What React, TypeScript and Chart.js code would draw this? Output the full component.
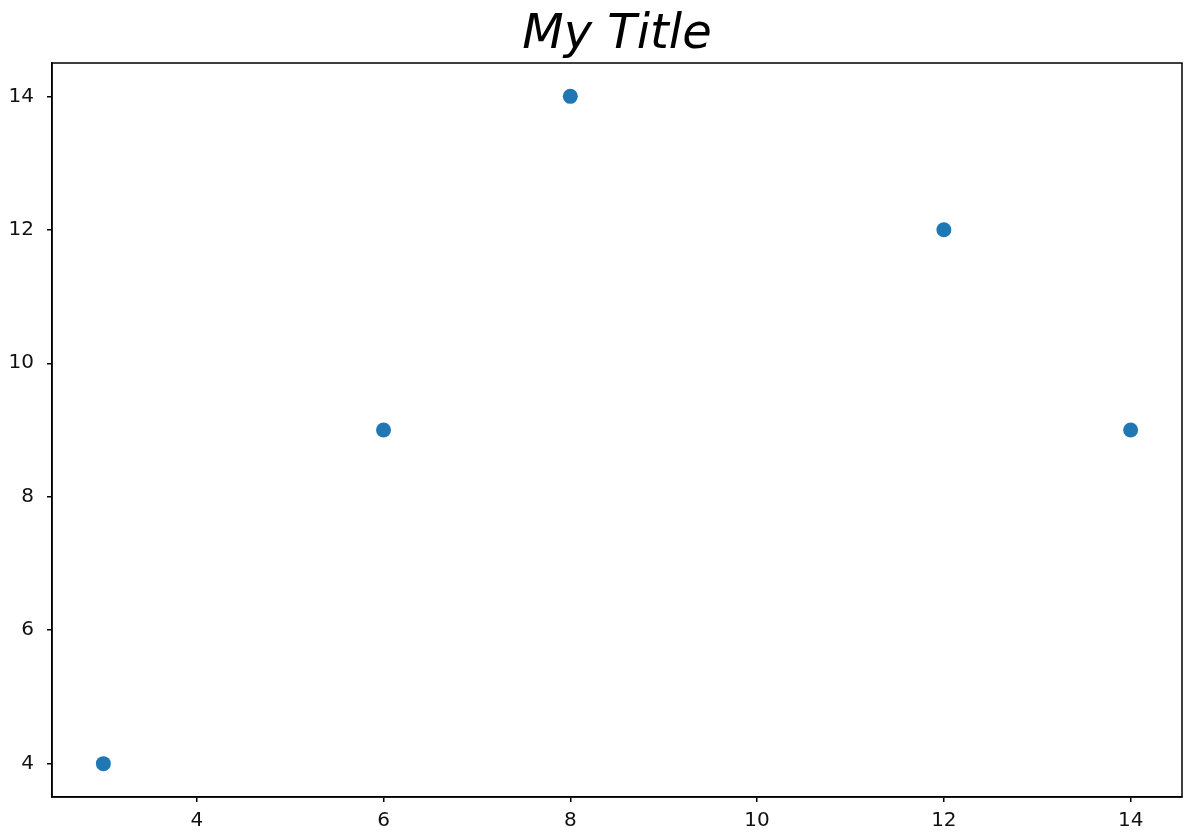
import React, { useEffect, useRef } from "react";
import { Chart, registerables } from "chart.js";

Chart.register(...registerables);

const titleText = "My Title";
const xValues = [3, 6, 8, 12, 14];
const yValues = [4, 9, 14, 12, 9];
const xTicks = [4, 6, 8, 10, 12, 14];
const yTicks = [4, 6, 8, 10, 12, 14];
const xRange = [2.45, 14.55];
const yRange = [3.5, 14.5];

const FONT = '"DejaVu Sans", sans-serif';

const frameAndTitle = {
  id: "frameAndTitle",
  afterDraw(chart: any) {
    const { ctx, chartArea } = chart;
    ctx.save();
    ctx.strokeStyle = "#000";
    ctx.lineWidth = 1.5;
    ctx.strokeRect(chartArea.left, chartArea.top, chartArea.right - chartArea.left, chartArea.bottom - chartArea.top);
    ctx.fillStyle = "#000";
    ctx.font = `italic 48px ${FONT}`;
    ctx.textAlign = "center";
    ctx.textBaseline = "alphabetic";
    ctx.fillText(titleText, (chartArea.left + chartArea.right) / 2, 48);
    ctx.restore();
  },
};

export default function App() {
  const ref = useRef<HTMLCanvasElement>(null);
  useEffect(() => {
    if (!ref.current) return;
    const points = xValues.map((x, i) => ({ x, y: yValues[i] }));
    const chart = new Chart(ref.current, {
      type: "scatter",
      data: {
        datasets: [
          {
            data: points,
            backgroundColor: "#1f77b4",
            borderColor: "#1f77b4",
            pointRadius: 7.5,
            pointHoverRadius: 7.5,
            borderWidth: 0,
          },
        ],
      },
      options: {
        animation: false,
        responsive: false,
        devicePixelRatio: 1,
        layout: { padding: { top: 63, right: 18, left: 0, bottom: 0 } },
        plugins: { legend: { display: false }, tooltip: { enabled: false }, title: { display: false } },
        scales: {
          x: {
            type: "linear",
            min: xRange[0],
            max: xRange[1],
            afterBuildTicks: (s: any) => {
              s.ticks = xTicks.map((v) => ({ value: v }));
            },
            afterFit: (s: any) => {
              s.height = 43;
            },
            grid: { display: true, drawOnChartArea: false, drawTicks: true, tickLength: 5, color: "#000", lineWidth: 1.5 },
            border: { display: true, color: "#000", width: 1.5 },
            ticks: { color: "#111", font: { family: FONT, size: 20 }, padding: 7, maxRotation: 0 },
          },
          y: {
            type: "linear",
            min: yRange[0],
            max: yRange[1],
            afterBuildTicks: (s: any) => {
              s.ticks = yTicks.map((v) => ({ value: v }));
            },
            afterFit: (s: any) => {
              s.width = 52;
            },
            grid: { display: true, drawOnChartArea: false, drawTicks: true, tickLength: 5, color: "#000", lineWidth: 1.5 },
            border: { display: true, color: "#000", width: 1.5 },
            ticks: { color: "#111", font: { family: FONT, size: 20 }, padding: 13 },
          },
        },
      },
      plugins: [frameAndTitle],
    });
    return () => chart.destroy();
  }, []);
  return (
    <div style={{ position: "fixed", left: 0, top: 0, width: 1200, height: 840, background: "#fff" }}>
      <canvas ref={ref} width={1200} height={840} style={{ width: 1200, height: 840 }} />
    </div>
  );
}
